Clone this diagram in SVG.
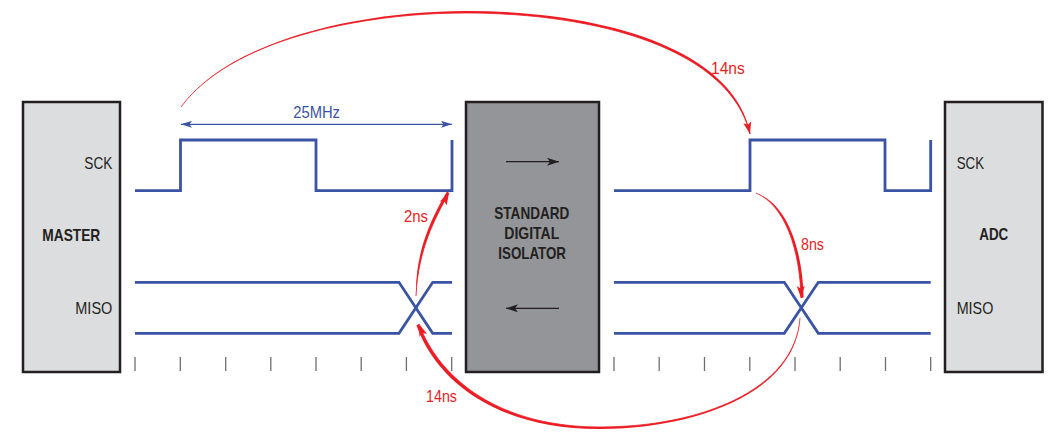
<svg xmlns="http://www.w3.org/2000/svg" width="1063" height="439" viewBox="0 0 1063 439">
<style>
.box{fill:#dcdddf;stroke:#231f20;stroke-width:2.5}
.iso{fill:#939598;stroke:#231f20;stroke-width:2.5}
.lbl{font-family:"Liberation Sans",Arial,sans-serif;font-size:17px;fill:#231f20}
.bold{font-weight:bold}
.red{font-family:"Liberation Sans",Arial,sans-serif;font-size:16.5px;fill:#ed1c24}
.blt{font-family:"Liberation Sans",Arial,sans-serif;font-size:16.5px;fill:#3a53a4}
.wave{fill:none;stroke:#3a53a4;stroke-width:2.8;stroke-linejoin:miter}
.tick{stroke:#6d6e71;stroke-width:1.3}
.rline{fill:none;stroke:#ed1c24;stroke-width:0.8}
.rfill{fill:#ed1c24;stroke:none}
.blk{stroke:#231f20;stroke-width:1.3}
</style>
<defs>
<marker id="rh" viewBox="0 0 12 8" refX="12" refY="4" markerWidth="12" markerHeight="8" markerUnits="userSpaceOnUse" orient="auto">
<path d="M0,0 L12,4 L0,8 L2.5,4 z" fill="#ed1c24"/>
</marker>
<marker id="bh" viewBox="0 0 11 7" refX="11" refY="3.5" markerWidth="11" markerHeight="7" markerUnits="userSpaceOnUse" orient="auto-start-reverse">
<path d="M0,0 L11,3.5 L0,7 L2.5,3.5 z" fill="#3a53a4"/>
</marker>
<marker id="kh" viewBox="0 0 12 8" refX="12" refY="4" markerWidth="12" markerHeight="8" markerUnits="userSpaceOnUse" orient="auto">
<path d="M0,0 L12,4 L0,8 L3,4 z" fill="#231f20"/>
</marker>
</defs>
<rect width="1063" height="439" fill="#ffffff"/>

<g id="master">
<rect class="box" x="23" y="102" width="97" height="270"/>
<text class="lbl" x="84.3" y="169" textLength="28" lengthAdjust="spacingAndGlyphs">SCK</text>
<text class="lbl bold" x="42.3" y="240.7" textLength="58" lengthAdjust="spacingAndGlyphs">MASTER</text>
<text class="lbl" x="75.3" y="314.3" textLength="37" lengthAdjust="spacingAndGlyphs">MISO</text>
</g>

<g id="isolator">
<rect class="iso" x="466" y="102" width="133" height="270"/>
<line class="blk" x1="506" y1="161.7" x2="559" y2="161.7" marker-end="url(#kh)"/>
<line class="blk" x1="559" y1="308.3" x2="506" y2="308.3" marker-end="url(#kh)"/>
<text class="lbl bold" x="494.3" y="219.3" font-size="16.5" textLength="75" lengthAdjust="spacingAndGlyphs">STANDARD</text>
<text class="lbl bold" x="504.3" y="239.3" font-size="16.5" textLength="55" lengthAdjust="spacingAndGlyphs">DIGITAL</text>
<text class="lbl bold" x="498.3" y="258.7" font-size="16.5" textLength="67.7" lengthAdjust="spacingAndGlyphs">ISOLATOR</text>
</g>

<g id="adc">
<rect class="box" x="945" y="102" width="97.5" height="270"/>
<text class="lbl" x="956.7" y="169" textLength="27.3" lengthAdjust="spacingAndGlyphs">SCK</text>
<text class="lbl bold" x="979.3" y="240" textLength="29" lengthAdjust="spacingAndGlyphs">ADC</text>
<text class="lbl" x="956.7" y="314.3" textLength="36.6" lengthAdjust="spacingAndGlyphs">MISO</text>
</g>

<g id="signals">
<path class="wave" d="M135,190.7 H180.5 V140 H316 V190.7 H452 V140"/>
<path class="wave" d="M135,282.3 H399 L432.7,333.3 H452"/>
<path class="wave" d="M135,333.3 H399 L432.7,282.3 H452"/>
<path class="wave" d="M614,190.7 H750 V140 H885 V190.7 H930.7 V140"/>
<path class="wave" d="M614,282.3 H784.3 L818.3,333.3 H930.7"/>
<path class="wave" d="M614,333.3 H784.3 L818.3,282.3 H930.7"/>
<g id="ticks">
<line class="tick" x1="135" y1="357" x2="135" y2="371"/>
<line class="tick" x1="180.3" y1="357" x2="180.3" y2="371"/>
<line class="tick" x1="225.7" y1="357" x2="225.7" y2="371"/>
<line class="tick" x1="270.8" y1="357" x2="270.8" y2="371"/>
<line class="tick" x1="316" y1="357" x2="316" y2="371"/>
<line class="tick" x1="361.2" y1="357" x2="361.2" y2="371"/>
<line class="tick" x1="406.4" y1="357" x2="406.4" y2="371"/>
<line class="tick" x1="451.7" y1="357" x2="451.7" y2="371"/>
<line class="tick" x1="614" y1="357" x2="614" y2="371"/>
<line class="tick" x1="659.2" y1="357" x2="659.2" y2="371"/>
<line class="tick" x1="704.5" y1="357" x2="704.5" y2="371"/>
<line class="tick" x1="749.8" y1="357" x2="749.8" y2="371"/>
<line class="tick" x1="795" y1="357" x2="795" y2="371"/>
<line class="tick" x1="840.2" y1="357" x2="840.2" y2="371"/>
<line class="tick" x1="885.5" y1="357" x2="885.5" y2="371"/>
<line class="tick" x1="930.7" y1="357" x2="930.7" y2="371"/>
</g>
</g>

<g id="connectors">
<line x1="181" y1="124.3" x2="452" y2="124.3" stroke="#3a53a4" stroke-width="1.3" marker-start="url(#bh)" marker-end="url(#bh)"/>
<text class="blt" x="293.3" y="117.7" textLength="46.7" lengthAdjust="spacingAndGlyphs">25MHz</text>

<path class="rfill" d="M181,107 C230,40 360,13 465,13 C600,13 730,50 750,134 L750.6,133.8 C733.5,48 601,10.6 465,11 C360,11.4 229.6,39.6 181,107 Z"/>
<path class="rline" d="M181,107 C230,40 360,13 465,13 C600,13 730,50 750,134" marker-end="url(#rh)"/>
<text class="red" x="711" y="74" textLength="33.7" lengthAdjust="spacingAndGlyphs">14ns</text>

<path class="rfill" d="M416,296 C418,250 435,218 449,193 L447,191.6 C432.5,216.5 415,250 416,296 Z"/>
<path class="rline" d="M416,296 C418,250 435,218 449,193" marker-end="url(#rh)"/>
<text class="red" x="404" y="222" textLength="24" lengthAdjust="spacingAndGlyphs">2ns</text>

<path class="rfill" d="M756,193 C785,205 800,250 801,298 L803.6,297.5 C802.6,249 787,203.5 756,193 Z"/>
<path class="rline" d="M756,193 C785,205 800,250 801,298" marker-end="url(#rh)"/>
<text class="red" x="801" y="250" textLength="23" lengthAdjust="spacingAndGlyphs">8ns</text>

<path class="rfill" d="M800,318 C795,390 700,427 600,427 C500,427 440,380 419,324 L416.4,325.2 C437,382.5 498.5,429.4 600,429 C700.5,428.6 796.5,391 800,318 Z"/>
<path class="rline" d="M800,318 C795,390 700,427 600,427 C500,427 440,380 419,324" marker-end="url(#rh)"/>
<text class="red" x="426" y="401.7" textLength="31" lengthAdjust="spacingAndGlyphs">14ns</text>
</g>
</svg>
